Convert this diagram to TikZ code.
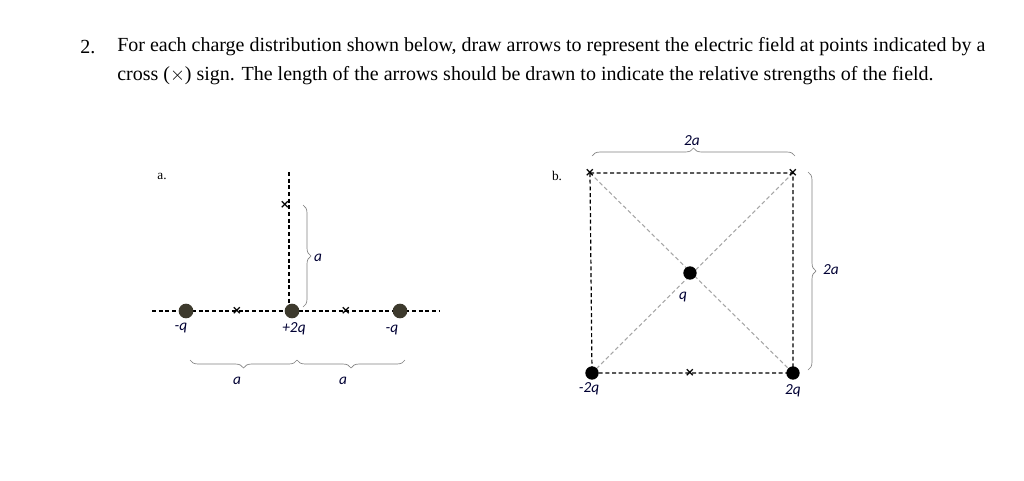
\documentclass[tikz,border=0pt]{standalone}
\usepackage{fontspec}
\setmainfont{Liberation Serif}
\newfontfamily\lab{Carlito}
\newfontfamily\djv{DejaVu Sans}
\usetikzlibrary{decorations.pathreplacing}
\begin{document}
\begin{tikzpicture}[x=0.75pt,y=-0.75pt,
  dline/.style={dashed,line width=0.9pt,dash pattern=on 3pt off 2pt},
  dgray/.style={densely dashed,gray!70,line width=0.8pt},
  chgA/.style={circle,fill=black!75!olive,inner sep=0,minimum width=10pt,minimum height=11pt},
  chgB/.style={circle,fill=black,inner sep=0,minimum size=10pt},
  crs/.style={inner sep=0,font=\djv\bfseries\small},
  br/.style={decorate,decoration={brace,amplitude=6pt},gray,line width=0.5pt},
  lb/.style={font=\lab\itshape\fontsize{11.5}{13}\selectfont,text=black!80!blue,inner sep=1pt},
  txt/.style={anchor=west,inner sep=0,font=\fontsize{15}{17}\selectfont}]
\useasboundingbox (0,0) rectangle (1024,480);
\node[txt] (n2) at (80,47) {2.};
\node[txt] (l1) at (117,47) {For each charge distribution shown below, draw arrows to represent the electric field at points indicated by a};
\node[txt] (l2) at (117,76) {cross ($\times$) sign. The length of the arrows should be drawn to indicate the relative strengths of the field.};
% part a
\node[font=\normalsize] (pa) at (162,176) {a.};
\coordinate (hl) at (152,311); \coordinate (hr) at (440,311);
\coordinate (vt) at (289,172);
\draw[dline] (hl) -- (hr);
\draw[dline] (vt) -- (289,311);
\node[chgA] (q1) at (186,311) {};
\node[chgA] (q2) at (292,311) {};
\node[chgA] (q3) at (400,311) {};
\node[crs] (x1) at (237,311) {×};
\node[crs] (x2) at (346,311) {×};
\node[crs] (x3) at (285,205) {×};
\draw[br] (303,205) -- (303,307);
\node[lb] (la) at (318,258) {a};
\node[lb] (lq1) at (181,328) {-q};
\node[lb] (lq2) at (294,329) {+2q};
\node[lb] (lq3) at (392,330) {-q};
\draw[br] (297,360) -- (190,360);
\draw[br] (405,360) -- (297,360);
\node[lb] (la1) at (237,381) {a};
\node[lb] (la2) at (343,381) {a};
% part b
\node[font=\normalsize] (pb) at (557,176) {b.};
\coordinate (tl) at (590,173); \coordinate (tr) at (793,173);
\coordinate (bl) at (592,373); \coordinate (brr) at (793,373);
\coordinate (cc) at (690,273);
\draw[dgray] (tl) -- (brr); \draw[dgray] (tr) -- (bl);
\draw[dline] (tl) -- (tr) -- (brr) -- (bl) -- cycle;
\node[chgB] (c0) at (cc) {};
\node[chgB] (c1) at (bl) {};
\node[chgB] (c2) at (brr) {};
\node[crs] (y1) at (tl) {×};
\node[crs] (y2) at (tr) {×};
\node[crs] (y3) at (690,373) {×};
\node[lb] (lq) at (683,297) {q};
\node[lb] (lm2) at (589,389) {-2q};
\node[lb] (lp2) at (793,391) {2q};
\draw[br] (592,156) -- (795,156);
\node[lb] (l2a) at (692,141) {2a};
\draw[br] (808,172) -- (808,370);
\node[lb] (r2a) at (831,270) {2a};
\end{tikzpicture}
\end{document}
